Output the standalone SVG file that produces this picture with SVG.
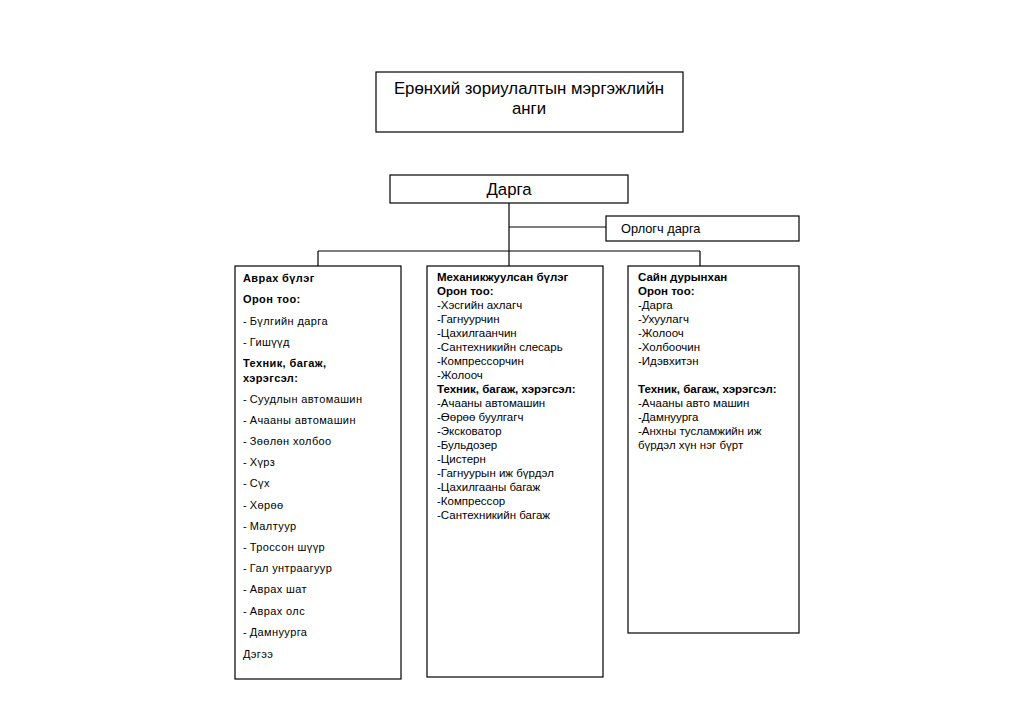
<svg xmlns="http://www.w3.org/2000/svg" width="1024" height="724" viewBox="0 0 1024 724">
<style>
rect{fill:#fff;stroke:#000;stroke-width:1.2}
line{stroke:#000;stroke-width:1.2}
text{font-family:"Liberation Sans",Arial,sans-serif;fill:#000}
.t{font-size:16.8px;text-anchor:middle}
.s{font-size:11.5px}
.o{font-size:12.8px}
.l{font-size:11px;letter-spacing:0.4px}
.b{font-weight:bold}
</style>
<rect x="0" y="0" width="1024" height="724" style="stroke:none"/>
<g id="connectors">
<line x1="509" y1="203" x2="509" y2="266"/>
<line x1="509" y1="227" x2="606" y2="227"/>
<line x1="318" y1="251" x2="700" y2="251"/>
<line x1="318" y1="251" x2="318" y2="266"/>
<line x1="700" y1="251" x2="700" y2="266"/>
</g>
<g id="unit">
<rect x="376" y="72" width="307" height="60"/>
<text class="t" x="529" y="94">Ерөнхий зориулалтын мэргэжлийн</text>
<text class="t" x="529" y="114">анги</text>
</g>
<g id="darga">
<rect x="390" y="175" width="238" height="28"/>
<text class="t" x="509" y="195">Дарга</text>
</g>
<g id="orlogch">
<rect x="606" y="216" width="193" height="25"/>
<text class="o" x="621" y="233">Орлогч дарга</text>
</g>
<g id="avrakh">
<rect x="235" y="266" width="166" height="413"/>
<text class="l" x="243" y="282"><tspan class="b">Аврах бүлэг</tspan>
<tspan class="b" x="243" y="303">Орон тоо:</tspan>
<tspan x="243" y="325">-&#8201;Бүлгийн дарга</tspan>
<tspan x="243" y="346">-&#8201;Гишүүд</tspan>
<tspan class="b" x="243" y="367">Техник, багаж,</tspan>
<tspan class="b" x="243" y="382">хэрэгсэл:</tspan>
<tspan x="243" y="403">-&#8201;Суудлын автомашин</tspan>
<tspan x="243" y="424">-&#8201;Ачааны автомашин</tspan>
<tspan x="243" y="445">-&#8201;Зөөлөн холбоо</tspan>
<tspan x="243" y="466">-&#8201;Хүрз</tspan>
<tspan x="243" y="487">-&#8201;Сүх</tspan>
<tspan x="243" y="509">-&#8201;Хөрөө</tspan>
<tspan x="243" y="530">-&#8201;Малтуур</tspan>
<tspan x="243" y="551">-&#8201;Троссон шүүр</tspan>
<tspan x="243" y="572">-&#8201;Гал унтраагуур</tspan>
<tspan x="243" y="593">-&#8201;Аврах шат</tspan>
<tspan x="243" y="615">-&#8201;Аврах олс</tspan>
<tspan x="243" y="636">-&#8201;Дамнуурга</tspan>
<tspan x="243" y="658">Дэгээ</tspan></text>
</g>
<g id="mekh">
<rect x="427" y="266" width="176" height="411"/>
<text class="s" x="437" y="281"><tspan class="b">Механикжуулсан бүлэг</tspan>
<tspan class="b" x="437" y="295">Орон тоо:</tspan>
<tspan x="437" y="309">-Хэсгийн ахлагч</tspan>
<tspan x="437" y="323">-Гагнуурчин</tspan>
<tspan x="437" y="337">-Цахилгаанчин</tspan>
<tspan x="437" y="351">-Сантехникийн слесарь</tspan>
<tspan x="437" y="365">-Компрессорчин</tspan>
<tspan x="437" y="379">-Жолооч</tspan>
<tspan class="b" x="437" y="393">Техник, багаж, хэрэгсэл:</tspan>
<tspan x="437" y="407">-Ачааны автомашин</tspan>
<tspan x="437" y="421">-Өөрөө буулгагч</tspan>
<tspan x="437" y="435">-Эксковатор</tspan>
<tspan x="437" y="449">-Бульдозер</tspan>
<tspan x="437" y="463">-Цистерн</tspan>
<tspan x="437" y="477">-Гагнуурын иж бүрдэл</tspan>
<tspan x="437" y="491">-Цахилгааны багаж</tspan>
<tspan x="437" y="505">-Компрессор</tspan>
<tspan x="437" y="519">-Сантехникийн багаж</tspan></text>
</g>
<g id="sain">
<rect x="628" y="266" width="171" height="367"/>
<text class="s" x="638" y="281"><tspan class="b">Сайн дурынхан</tspan>
<tspan class="b" x="638" y="295">Орон тоо:</tspan>
<tspan x="638" y="309">-Дарга</tspan>
<tspan x="638" y="323">-Ухуулагч</tspan>
<tspan x="638" y="337">-Жолооч</tspan>
<tspan x="638" y="351">-Холбоочин</tspan>
<tspan x="638" y="365">-Идэвхитэн</tspan>
<tspan class="b" x="638" y="393">Техник, багаж, хэрэгсэл:</tspan>
<tspan x="638" y="407">-Ачааны авто машин</tspan>
<tspan x="638" y="421">-Дамнуурга</tspan>
<tspan x="638" y="435">-Анхны тусламжийн иж</tspan>
<tspan x="638" y="449">бүрдэл хүн нэг бүрт</tspan></text>
</g>
</svg>
